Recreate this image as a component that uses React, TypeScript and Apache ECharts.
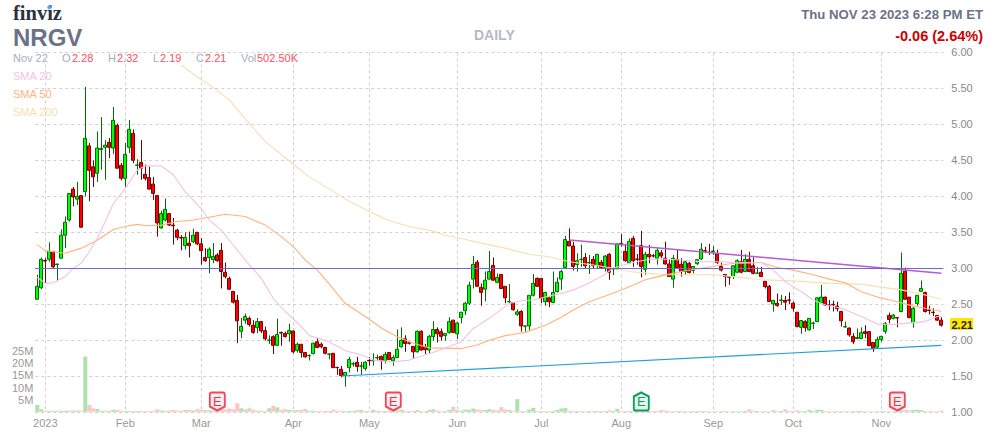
import React, { useEffect, useRef } from "react";
import * as echarts from "echarts";

const monthTicks: Record<number, string> = { 2: "2023", 22: "Feb", 41: "Mar", 64: "Apr", 83: "May", 105: "Jun", 126: "Jul", 146: "Aug", 169: "Sep", 189: "Oct", 211: "Nov" };

// open, close, low, high
const candles: number[][] = [
  [2.57,2.75,2.57,2.91],[2.73,3.125,2.71,3.15],[3.11,3.10,2.79,3.14],[3.125,3.235,3.09,3.36],[3.235,3.02,3.0,3.24],
  [3.05,3.06,2.82,3.06],[3.14,3.46,3.14,3.54],[3.46,3.64,3.28,3.72],[3.67,4.04,3.65,4.04],[4.10,3.99,3.86,4.13],
  [3.96,4.0,3.88,4.2],[4.01,3.57,3.57,4.01],[4.065,4.805,4.0,5.52],[4.70,4.36,3.93,4.74],[4.41,4.27,4.13,4.5],
  [4.32,4.67,4.2,4.9],[4.65,4.665,4.37,5.1],[4.68,4.71,4.23,4.78],[4.75,4.68,4.53,4.81],[4.67,5.055,4.59,5.24],
  [4.985,4.39,4.39,5.01],[4.43,4.25,4.22,4.46],[4.25,4.58,4.13,4.74],[4.68,4.93,4.6,5.06],[4.875,4.5,4.46,4.93],
  [4.43,4.435,4.3,4.515],[4.47,4.39,4.23,4.78],[4.305,4.25,4.22,4.44],[4.26,4.10,4.09,4.41],[4.17,4.04,3.95,4.27],
  [4.01,3.63,3.44,4.01],[3.56,3.76,3.55,3.8],[3.67,3.82,3.65,3.97],[3.76,3.6,3.59,3.76],[3.6,3.59,3.33,3.7],
  [3.53,3.43,3.39,3.55],[3.43,3.42,3.25,3.46],[3.315,3.43,3.26,3.5],[3.35,3.315,3.15,3.51],[3.37,3.46,3.35,3.55],
  [3.5,3.34,3.32,3.5],[3.34,3.245,3.05,3.42],[3.15,3.105,3.09,3.28],[3.15,3.265,2.93,3.29],[3.12,3.165,3.07,3.35],
  [3.185,3.105,3.09,3.21],[3.25,2.955,2.72,3.35],[2.945,2.885,2.86,3.08],[2.86,2.71,2.70,2.885],[2.68,2.53,2.51,2.68],
  [2.555,2.27,1.96,2.63],[2.125,2.195,2.03,2.31],[2.28,2.33,2.23,2.37],[2.305,2.22,2.19,2.33],[2.21,2.11,2.09,2.28],
  [2.175,2.26,2.10,2.31],[2.26,2.13,2.10,2.27],[2.135,2.02,2.0,2.19],[2.0,2.005,1.95,2.07],[2.05,1.93,1.81,2.07],
  [1.93,2.08,1.93,2.30],[2.11,2.10,1.925,2.12],[2.095,2.05,2.04,2.12],[2.09,2.135,1.98,2.23],[2.13,1.84,1.82,2.13],
  [1.86,1.945,1.83,1.97],[1.945,1.83,1.76,1.945],[1.83,1.77,1.76,1.83],[1.785,1.79,1.72,1.805],[1.815,1.96,1.805,1.97],
  [1.98,1.90,1.89,2.03],[1.945,1.91,1.89,1.97],[1.90,1.82,1.805,1.91],[1.805,1.81,1.735,1.82],[1.82,1.62,1.62,1.82],
  [1.625,1.62,1.52,1.63],[1.597,1.51,1.486,1.644],[1.51,1.555,1.355,1.555],[1.62,1.735,1.555,1.77],[1.67,1.675,1.635,1.70],
  [1.695,1.635,1.565,1.77],[1.64,1.645,1.52,1.70],[1.61,1.695,1.58,1.71],[1.72,1.715,1.65,1.77],[1.715,1.72,1.65,1.82],
  [1.755,1.76,1.725,1.80],[1.775,1.715,1.59,1.79],[1.715,1.805,1.68,1.84],[1.83,1.735,1.725,1.83],[1.715,1.76,1.645,1.795],
  [1.76,1.875,1.76,2.15],[1.91,2.0,1.90,2.18],[2.02,1.955,1.84,2.07],[1.965,1.96,1.94,1.98],[1.915,1.84,1.74,1.915],
  [1.84,2.125,1.83,2.14],[2.125,1.865,1.855,2.14],[1.91,1.87,1.81,1.95],[1.865,2.055,1.81,2.075],[2.05,2.15,1.995,2.265],
  [2.15,2.09,1.97,2.18],[2.12,2.055,1.995,2.165],[2.065,2.095,1.995,2.10],[2.11,2.26,2.09,2.32],[2.28,2.11,2.10,2.285],
  [2.09,2.24,2.015,2.26],[2.315,2.39,2.235,2.39],[2.41,2.515,2.35,2.535],[2.515,2.765,2.49,2.815],[2.85,3.055,2.72,3.17],
  [3.085,2.75,2.745,3.115],[2.735,2.665,2.48,2.79],[2.71,2.835,2.54,2.955],[2.85,2.955,2.84,3.24],[3.04,2.835,2.825,3.15],
  [2.805,2.875,2.79,2.93],[2.915,2.72,2.71,2.915],[2.75,2.59,2.515,2.75],[2.535,2.54,2.52,2.78],[2.525,2.425,2.41,2.525],
  [2.36,2.395,2.34,2.43],[2.40,2.20,2.12,2.42],[2.195,2.20,2.12,2.20],[2.20,2.625,2.135,2.625],[2.625,2.79,2.61,2.92],
  [2.86,2.75,2.745,2.875],[2.86,2.585,2.515,2.86],[2.535,2.665,2.48,2.675],[2.59,2.535,2.46,2.605],[2.525,2.665,2.515,2.955],
  [2.675,2.805,2.665,2.875],[2.85,2.955,2.7,2.98],[3.01,3.40,3.01,3.45],[3.375,3.31,3.31,3.555],[3.31,3.025,2.97,3.37],
  [3.05,3.105,2.955,3.21],[3.12,3.125,3.02,3.33],[3.15,3.035,3.0,3.21],[3.075,3.08,2.92,3.185],[3.125,3.035,3.0,3.17],
  [3.035,3.195,3.0,3.195],[3.085,3.01,3.0,3.115],[3.01,3.17,2.955,3.185],[3.195,2.945,2.84,3.21],[2.99,2.995,2.905,3.01],
  [2.99,3.34,2.99,3.34],[3.345,3.34,3.3,3.475],[3.235,3.105,3.09,3.34],[3.075,3.375,3.07,3.415],[3.415,3.105,3.02,3.45],
  [3.13,3.125,3.05,3.2],[3.315,3.025,2.875,3.52],[2.985,3.195,2.91,3.23],[3.195,3.16,3.07,3.325],[3.175,3.17,3.15,3.2],
  [3.14,3.25,3.05,3.28],[3.215,3.17,3.14,3.255],[3.14,3.06,3.05,3.37],[3.06,2.885,2.885,3.125],[2.85,3.14,2.73,3.185],
  [3.125,3.01,3.0,3.255],[3.055,2.955,2.885,3.14],[2.955,3.09,2.905,3.105],[3.07,2.94,2.93,3.09],[2.97,3.025,2.93,3.03],
  [3.065,3.12,3.045,3.125],[3.13,3.265,3.115,3.35],[3.245,3.24,3.21,3.30],[3.225,3.22,3.185,3.34],[3.235,3.24,3.185,3.31],
  [3.2,3.08,3.06,3.26],[3.025,2.975,2.955,3.08],[2.915,2.885,2.745,2.915],[2.885,2.875,2.77,2.885],[2.885,3.035,2.85,3.045],
  [2.945,3.105,2.93,3.125],[3.09,2.945,2.93,3.255],[2.955,3.125,2.945,3.195],[3.125,2.955,2.945,3.23],[3.035,2.93,2.915,3.15],
  [2.93,2.935,2.925,3.02],[2.945,2.885,2.885,3.02],[2.82,2.745,2.72,2.82],[2.75,2.54,2.53,2.77],[2.505,2.555,2.40,2.56],
  [2.515,2.485,2.465,2.65],[2.555,2.56,2.49,2.63],[2.555,2.53,2.42,2.615],[2.56,2.555,2.5,2.665],[2.515,2.445,2.40,2.54],
  [2.39,2.19,2.18,2.39],[2.18,2.275,2.09,2.28],[2.26,2.175,2.12,2.28],[2.145,2.305,2.135,2.305],[2.235,2.24,2.155,2.26],
  [2.26,2.59,2.255,2.6],[2.52,2.6,2.52,2.77],[2.6,2.49,2.475,2.605],[2.49,2.485,2.42,2.56],[2.5,2.495,2.4,2.55],
  [2.475,2.44,2.4,2.535],[2.4,2.27,2.19,2.41],[2.185,2.19,2.175,2.26],[2.17,2.075,2.05,2.18],[2.055,1.98,1.95,2.1],
  [2.025,2.04,2.015,2.165],[2.025,2.105,2.015,2.18],[2.12,2.095,2.03,2.21],[2.12,1.925,1.92,2.12],[1.97,1.89,1.84,1.97],
  [1.905,2.01,1.89,2.05],[2.01,2.055,1.98,2.06],[2.125,2.235,2.09,2.255],[2.345,2.29,2.235,2.385],[2.305,2.35,2.29,2.365],
  [2.315,2.31,2.18,2.315],[2.4,2.93,2.39,3.22],[2.96,2.57,2.56,3.01],[2.6,2.315,2.305,2.6],[2.245,2.445,2.175,2.46],
  [2.51,2.625,2.48,2.625],[2.68,2.72,2.68,2.83],[2.665,2.4,2.385,2.675],[2.42,2.415,2.36,2.48],[2.39,2.385,2.335,2.445],
  [2.345,2.28,2.27,2.345],[2.28,2.21,2.19,2.32],
];

// volume, in millions
const volumes: number[] = [
  2.8,1.0,.4,.4,.4,.4,.4,.4,.4,.6,
  .5,.4,22.8,2.8,1.4,1.1,.4,.4,.4,.8,
  .7,.4,.3,.3,.3,.3,.3,.3,.2,.4,
  1.0,.5,.4,.5,.7,.5,.3,.7,.7,.5,
  1.0,.9,.7,.6,.5,.8,1.0,.9,1.3,1.0,
  3.5,1.4,.9,1.4,.8,.4,.4,.3,1.4,2.4,
  1.8,.8,1.0,.7,.6,.6,.8,1.1,.4,.4,
  .3,.3,.3,.3,.9,.4,.4,.3,.3,.4,
  .7,.7,.3,.3,.8,.4,.3,.3,.5,.6,
  .6,.8,.4,.3,.3,.7,.3,.3,.7,1.0,
  .5,.3,.2,.7,2.0,.6,.4,.9,.7,1.3,
  .9,.7,.7,1.0,.7,.5,1.9,.9,.7,.4,
  5.2,.3,.3,.9,1.6,.3,.3,.2,.3,.3,
  .7,1.3,1.5,.4,.3,.3,.2,.2,.3,.3,
  .3,.3,.3,.6,.3,1.2,.3,.3,.3,.4,
  .4,.6,.4,.3,.3,.3,.7,.5,.3,.2,
  .3,.3,.2,.2,.3,.3,.3,.3,.2,.2,
  .2,.3,.3,.2,.2,.2,.3,.3,1.0,.4,
  .3,.2,.3,.2,.6,.3,.3,1.0,.3,.3,
  .6,.3,.3,.8,.3,.8,.8,.3,.2,.2,
  .3,.2,.2,.2,.3,.3,.3,.2,.2,.2,
  .2,.3,.2,.2,.2,.3,.7,.7,.6,.8,
  .8,.7,.3,.3,.2,.2,.5,
];

const sma20: number[][] = [
  [0,2.875],[2,2.79],[4,2.80],[7,2.885],[9,3.0],[11,3.07],[13,3.23],[15,3.42],[17,3.65],[19,3.90],[22,4.11],[25,4.365],[27,4.425],[31,4.42],[34,4.30],[37,4.06],[41,3.83],[43,3.67],[46,3.53],[49,3.32],[52,3.115],[56,2.86],[59,2.58],[62,2.40],[66,2.19],[68,2.065],[72,2.0],[76,1.89],[77,1.855],[81,1.795],[84,1.725],[89,1.70],[93,1.725],[97,1.795],[102,1.89],[106,1.98],[109,2.165],[113,2.305],[118,2.51],[121,2.55],[124,2.56],[128,2.615],[131,2.65],[134,2.70],[137,2.77],[141,2.885],[144,3.0],[148,3.07],[153,3.125],[156,3.13],[161,3.115],[166,3.09],[171,3.09],[176,3.07],[181,3.08],[184,2.975],[187,2.815],[191,2.675],[194,2.56],[197,2.49],[201,2.445],[206,2.33],[210,2.225],[214,2.22],[217,2.235],[222,2.26],[225,2.33],[226,2.33],
];
const sma50: number[][] = [
  [0,3.325],[2,3.245],[7,3.21],[11,3.28],[15,3.39],[19,3.54],[22,3.58],[25,3.61],[27,3.59],[31,3.60],[35,3.65],[39,3.67],[43,3.71],[47,3.75],[52,3.72],[54,3.67],[57,3.6],[61,3.44],[64,3.30],[67,3.115],[70,2.975],[73,2.78],[77,2.51],[82,2.33],[86,2.17],[90,2.05],[94,1.96],[98,1.895],[106,1.885],[110,1.935],[113,2.0],[117,2.065],[122,2.11],[127,2.21],[131,2.32],[134,2.42],[138,2.535],[142,2.615],[147,2.72],[152,2.84],[156,2.895],[161,2.955],[166,3.0],[171,3.045],[176,3.08],[181,3.08],[185,3.01],[189,2.975],[194,2.91],[198,2.85],[202,2.80],[206,2.675],[210,2.6],[214,2.55],[219,2.475],[222,2.445],[226,2.40],
];
const sma200: number[][] = [
  [36,5.82],[40,5.66],[44,5.51],[48,5.34],[53,5.01],[57,4.76],[63,4.49],[68,4.27],[73,4.10],[78,3.93],[83,3.79],[88,3.66],[93,3.58],[98,3.53],[102,3.46],[106,3.415],[111,3.35],[117,3.28],[123,3.195],[128,3.16],[133,3.09],[139,3.045],[144,3.0],[148,2.955],[153,2.93],[158,2.91],[164,2.91],[169,2.91],[174,2.885],[181,2.84],[189,2.825],[198,2.79],[206,2.78],[210,2.745],[216,2.70],[222,2.63],[226,2.57],
];
const trendUpper: number[][] = [[133,3.393],[226,2.93]];
const trendLower: number[][] = [[76,1.504],[226,1.93]];
const supportLevel = 3.0;

const earningsRed: number[] = [45, 89, 215];
const earningsGreen: number[] = [151];
const earningsLevel = 1.15;

const priceTicks = { min: 1, max: 6, interval: 0.5 };
const volumeTicks = { min: 0, max: 25, interval: 5 };

const ohlcLabels: [string, string][] = [["O", "2.28"], ["H", "2.32"], ["L", "2.19"], ["C", "2.21"], ["Vol", "502.50K"]];
const ohlcX = [62, 108, 153, 196, 241];
const ohlcValueX = [72, 117, 160, 205, 257];
const smaLabels: [string, string][] = [["SMA 20", "#f4bfe8"], ["SMA 50", "#ffb37f"], ["SMA 200", "#f7dfae"]];

const categories = candles.map((_, i) => String(i));
const FONT = '"Liberation Sans", Arial, sans-serif';
const SHIELD_DOWN = "path://M2,0 H14 Q16,0 16,2 V14 L8,18 L0,14 V2 Q0,0 2,0 Z";
const SHIELD_UP = "path://M8,0 L16,4 V16 Q16,18 14,18 H2 Q0,18 0,16 V4 Z";

function earningsSeries(name: string, idx: number[], symbol: string, border: string, fill: string, text: string) {
  return {
    name,
    type: "scatter",
    xAxisIndex: 0,
    yAxisIndex: 0,
    data: idx.map((i) => [i, earningsLevel]),
    symbol,
    symbolSize: [15, 18],
    itemStyle: { color: fill, borderColor: border, borderWidth: 2, opacity: 1 },
    label: { show: true, position: "inside", formatter: "E", color: text, fontSize: 13, fontFamily: FONT },
    z: 6,
    silent: true,
  };
}

function lineSeries(name: string, data: number[][], color: string, width: number) {
  return {
    name,
    type: "line",
    xAxisIndex: 0,
    yAxisIndex: 0,
    data,
    showSymbol: false,
    symbol: "none",
    lineStyle: { color, width },
    z: 4,
    silent: true,
  };
}

export default function App() {
  const ref = useRef<HTMLDivElement>(null);
  useEffect(() => {
    document.body.style.margin = "0";
    const chart = echarts.init(ref.current!, undefined, { renderer: "svg" });
    const text = (x: number, y: number, t: string, style: any) => ({
      type: "text",
      x,
      y,
      silent: true,
      style: { text: t, fontFamily: FONT, fontSize: 11, textVerticalAlign: "middle", ...style },
    });
    const graphics: any[] = [
      text(13, 13, "finviz", { fontFamily: '"Liberation Serif", serif', fontSize: 20.5, fontWeight: "bold", fill: "#2c3240" }),
      { type: "circle", shape: { cx: 49.3, cy: 7.3, r: 2 }, style: { fill: "#4ea8f0" }, silent: true, z: 10 },
      text(13, 37, "NRGV", { fontSize: 24, fontWeight: "bold", fill: "#6b7288" }),
      text(474, 35, "DAILY", { fontSize: 14, fontWeight: "bold", fill: "#b4b9c8" }),
      text(983, 14, "Thu NOV 23 2023 6:28 PM ET", { fontSize: 13.2, fontWeight: "bold", fill: "#6b7288", align: "right" }),
      text(983, 36, "-0.06 (2.64%)", { fontSize: 14.5, fontWeight: "bold", fill: "#cc0000", align: "right" }),
      text(13, 58, "Nov 22", { fill: "#a8adbd" }),
      ...ohlcLabels.flatMap(([k, v], i) => [
        text(ohlcX[i], 58, k, { fill: "#a8adbd" }),
        text(ohlcValueX[i], 58, v, { fill: "#f9505f" }),
      ]),
      ...smaLabels.map(([t, c], i) => text(13, 76 + i * 18, t, { fill: c })),
      { type: "rect", shape: { x: 950, y: 318, width: 23, height: 12 }, style: { fill: "#ffe800" }, silent: true, z: 10 },
      { ...text(951.5, 324.5, "2.21", { fontWeight: "bold", fill: "#222222" }), z: 11 },
    ];
    chart.setOption({
      animation: false,
      backgroundColor: "#ffffff",
      textStyle: { fontFamily: FONT },
      grid: [
        { left: 35.3, width: 908, top: 52.3, height: 360 },
        { left: 35.3, width: 908, top: 351.3, height: 60.4 },
      ],
      xAxis: [
        {
          type: "category",
          gridIndex: 0,
          data: categories,
          axisLine: { show: false },
          axisTick: { show: false },
          axisLabel: { show: false },
          splitLine: {
            show: true,
            alignWithLabel: true,
            interval: (i: number) => monthTicks[i] !== undefined,
            lineStyle: { color: "#d0d0d0", type: [3, 3], width: 1 },
          },
        },
        {
          type: "category",
          gridIndex: 1,
          data: categories,
          axisLine: { show: false },
          axisTick: { show: false },
          splitLine: { show: false },
          axisLabel: {
            interval: (i: number) => monthTicks[i] !== undefined,
            formatter: (_: string, i: number) => monthTicks[i] ?? "",
            color: "#999999",
            fontSize: 11,
            margin: 6,
            hideOverlap: false,
          },
        },
      ],
      yAxis: [
        {
          type: "value",
          gridIndex: 0,
          position: "right",
          ...priceTicks,
          axisLine: { show: false },
          axisTick: { show: false },
          axisLabel: { color: "#888888", fontSize: 11, margin: 8, formatter: (v: number) => v.toFixed(2) },
          splitLine: { show: true, lineStyle: { color: "#d0d0d0", type: [3, 3], width: 1 } },
        },
        {
          type: "value",
          gridIndex: 1,
          position: "left",
          ...volumeTicks,
          axisLine: { show: false },
          axisTick: { show: false },
          axisLabel: { color: "#999999", fontSize: 11, margin: 2, formatter: (v: number) => (v ? `${v}M` : "") },
          splitLine: { show: false },
        },
      ],
      series: [
        {
          name: "Volume",
          type: "bar",
          xAxisIndex: 1,
          yAxisIndex: 1,
          barWidth: 4,
          data: volumes.map((v, i) => ({
            value: v,
            itemStyle: { color: candles[i][1] >= candles[i][0] ? "#aee2ac" : "#ffc4c4" },
          })),
          z: 1,
          silent: true,
        },
        {
          name: "NRGV",
          type: "candlestick",
          xAxisIndex: 0,
          yAxisIndex: 0,
          barWidth: 3.2,
          data: candles,
          itemStyle: {
            color: "#00ff00",
            color0: "#ff0000",
            borderColor: "#006e00",
            borderColor0: "#7a0000",
            borderWidth: 1,
          },
          z: 3,
          silent: true,
        },
        lineSeries("SMA 200", sma200, "#f7e0b0", 1.1),
        lineSeries("SMA 50", sma50, "#ffb27d", 1.1),
        lineSeries("SMA 20", sma20, "#f4bfe8", 1.1),
        lineSeries("Upper trend", trendUpper, "#b85ad0", 1.5),
        lineSeries("Lower trend", trendLower, "#1f9edc", 1.2),
        {
          name: "Level",
          type: "line",
          xAxisIndex: 0,
          yAxisIndex: 0,
          data: [],
          markLine: {
            silent: true,
            symbol: "none",
            label: { show: false },
            lineStyle: { color: "#6a6ad0", type: "solid", width: 1 },
            data: [{ yAxis: supportLevel }],
          },
          z: 5,
        },
        earningsSeries("Earnings", earningsRed, SHIELD_DOWN, "#f0485a", "#fdeced", "#e0394d"),
        earningsSeries("Earnings up", earningsGreen, SHIELD_UP, "#0a9d5f", "#e6f6ee", "#0a9d5f"),
      ],
      graphic: graphics,
    });
    return () => chart.dispose();
  }, []);
  return <div ref={ref} style={{ position: "absolute", left: 0, top: 0, width: 996, height: 442 }} />;
}
